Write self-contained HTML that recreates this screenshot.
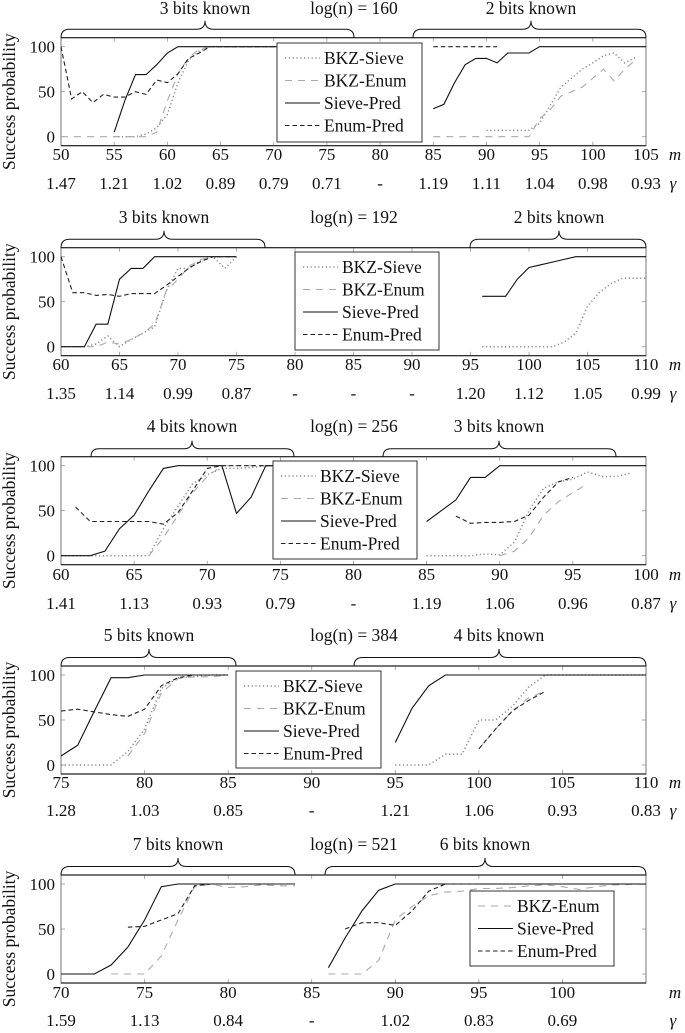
<!DOCTYPE html>
<html><head><meta charset="utf-8"><style>
body{margin:0;background:#fff;font-family:"Liberation Serif",serif;}
svg{display:block;}
</style></head><body>
<svg id="chart" width="685" height="1033" viewBox="0 0 685 1033" xmlns="http://www.w3.org/2000/svg">
</svg>
<script>
// ---------- data ----------
// Panel 1: log(n)=160
const p1Ticks=[50,55,60,65,70,75,80,85,90,95,100,105];
const p1Gamma=["1.47","1.21","1.02","0.89","0.79","0.71","-","1.19","1.11","1.04","0.98","0.93"];
const p1BkzSieveM=[55,56,57,58,59,60,61,62,63,64,77,null,90,91,92,93,94,95,96,97,98,99,100,101,102,103,104];
const p1BkzSieveV=[0,0,0,3,10,25,60,85,95,100,100,null,7,7,7,7,7,15,35,55,65,75,82,90,93,82,88];
const p1BkzEnumM=[50,58,59,60,61,62,63,64,75,null,85,94,95,96,97,98,99,100,101,102,103,104];
const p1BkzEnumV=[0,0,5,40,70,88,97,100,100,null,0,0,20,30,45,50,55,65,75,62,75,85];
const p1SievePredM=[55,56,57,58,59,60,61,77,null,85,86,87,88,89,90,91,92,93,94,95,105];
const p1SievePredV=[5,40,69,69,80,93,100,100,null,31,36,60,80,87,87,82,93,93,93,100,100];
const p1EnumPredM=[50,51,52,53,54,55,56,57,58,59,60,61,62,63,64,77,null,85,91];
const p1EnumPredV=[100,42,50,38,47,44,44,50,47,63,60,70,87,93,100,100,null,100,100];
// Panel 2: log(n)=192
const p2Ticks=[60,65,70,75,80,85,90,95,100,105,110];
const p2Gamma=["1.35","1.14","0.99","0.87","-","-","-","1.20","1.12","1.05","0.99"];
const p2BkzSieveM=[60,61,62,63,64,65,66,67,68,69,70,71,72,73,74,75,null,96,102,103,104,105,106,107,108,110];
const p2BkzSieveV=[0,0,0,3,12,0,8,15,22,62,87,87,97,100,87,100,null,0,0,5,15,45,60,70,76,76];
const p2BkzEnumM=[60,63,64,65,66,67,68,69,70,71,72,73,75];
const p2BkzEnumV=[0,0,5,3,8,15,25,62,75,90,97,100,100];
const p2SievePredM=[60,62,63,64,65,66,67,68,75,null,96,98,99,100,101,102,103,104,110];
const p2SievePredV=[0,0,25,25,75,87,87,100,100,null,56,56,75,88,91,94,97,100,100];
const p2EnumPredM=[60,61,62,63,64,65,66,67,68,69,70,71,72,73,75];
const p2EnumPredV=[100,60,60,57,58,56,59,59,59,68,78,88,95,100,100];
// Panel 3: log(n)=256
const p3Ticks=[60,65,70,75,80,85,90,95,100];
const p3Gamma=["1.41","1.13","0.93","0.79","-","1.19","1.06","0.96","0.87"];
const p3BkzSieveM=[60,66,67,68,69,70,71,72,73,74,75,null,85,88,89,90,91,92,93,94,95,96,97,98,99];
const p3BkzSieveV=[0,0,30,55,80,90,97,97,98,100,100,null,0,0,2,1,15,50,75,82,85,93,88,88,92];
const p3BkzEnumM=[66,67,68,69,70,71,75,null,90,91,92,93,94,95,96];
const p3BkzEnumV=[0,20,45,70,88,100,100,null,0,5,20,45,60,70,80];
const p3SievePredM=[60,62,63,64,65,66,67,68,71,72,73,74,75,null,85,86,87,88,89,90,100];
const p3SievePredV=[0,0,5,30,45,72,97,100,100,47,65,100,100,null,38,50,62,87,87,100,100];
const p3EnumPredM=[61,62,66,67,68,69,70,71,75,null,87,88,89,90,91,92,93,94,95];
const p3EnumPredV=[54,38,38,35,48,72,97,100,100,null,44,36,37,37,38,45,65,82,87];
// Panel 4: log(n)=384
const p4Ticks=[75,80,85,90,95,100,105,110];
const p4Gamma=["1.28","1.03","0.85","-","1.21","1.06","0.93","0.83"];
const p4BkzSieveM=[75,78,79,80,81,82,83,84,85,null,95,97,98,99,100,101,102,103,104,110];
const p4BkzSieveV=[0,0,15,40,85,97,98,100,100,null,0,0,12,12,50,50,65,87,100,100];
const p4BkzEnumM=[79,80,81,82,83,84,85,null,100,101,102,103,104];
const p4BkzEnumV=[10,35,80,96,98,98,100,null,18,40,60,75,82];
const p4SievePredM=[75,76,77,78,79,80,85,null,95,96,97,98,110];
const p4SievePredV=[10,22,60,97,97,100,100,null,25,63,88,100,100];
const p4EnumPredM=[75,76,77,78,79,80,81,82,83,85,null,100,101,102,103,104];
const p4EnumPredV=[60,62,59,56,54,62,88,97,100,100,null,18,40,60,72,82];
// Panel 5: log(n)=521
const p5Ticks=[70,75,80,85,90,95,100];
const p5Gamma=["1.59","1.13","0.84","-","1.02","0.83","0.69"];
const p5BkzEnumM=[73,75,76,77,78,79,80,81,82,83,84,null,86,88,89,90,91,92,93,94,95,96,97,98,99,100,101,102,103,105];
const p5BkzEnumV=[0,0,20,60,97,100,96,97,99,98,98,null,0,0,15,60,75,87,91,92,95,95,96,98,99,97,94,97,99,100];
const p5SievePredM=[70,72,73,74,75,76,77,84,null,86,87,88,89,90,105];
const p5SievePredV=[0,0,10,30,60,97,100,100,null,7,40,70,93,100,100];
const p5EnumPredM=[74,75,76,77,78,79,84,null,87,88,89,90,91,92,93,95];
const p5EnumPredV=[52,53,60,67,98,100,100,null,50,57,57,54,70,92,100,100];

// ---------- layout ----------
const NS="http://www.w3.org/2000/svg";
const svg=document.getElementById('chart');
const XL=61,XR=646;
const STY={
 "BKZ-Sieve":{stroke:"#8a8a8a",dash:"1.2 2.6",w:1.5},
 "BKZ-Enum":{stroke:"#aaaaaa",dash:"7 6",w:1.1},
 "Sieve-Pred":{stroke:"#111",dash:"",w:1.1},
 "Enum-Pred":{stroke:"#222",dash:"4.5 3",w:1.1}
};
function mk(tag,attrs,parent){const e=document.createElementNS(NS,tag);for(const k in attrs)e.setAttribute(k,attrs[k]);(parent||svg).appendChild(e);return e;}
function txt(x,y,s,anchor,size,parent,italic){const t=mk('text',{x:x,y:y,'text-anchor':anchor||'middle','font-size':size||17,fill:'#111','font-family':'Liberation Serif'},parent);if(italic)t.setAttribute('font-style','italic');t.textContent=s;return t;}
function brace(g,x1,x2,xp,yb,h){
 const r=h/2;
 const d=`M${x1},${yb} Q${x1},${yb-r} ${x1+r},${yb-r} L${xp-r},${yb-r} Q${xp},${yb-r} ${xp},${yb-h} Q${xp},${yb-r} ${xp+r},${yb-r} L${x2-r},${yb-r} Q${x2},${yb-r} ${x2},${yb}`;
 return mk('path',{d:d,fill:'none',stroke:'#111','stroke-width':1},g);
}
const panels=[
 {id:1,title:"log(n) = 160",y100:46.7,y0:136.7,xmin:50,xmax:105,ticks:p1Ticks,gamma:p1Gamma,lab:160,gam:189,hdr:14,
  series:[["BKZ-Sieve",p1BkzSieveM,p1BkzSieveV],["BKZ-Enum",p1BkzEnumM,p1BkzEnumV],["Sieve-Pred",p1SievePredM,p1SievePredV],["Enum-Pred",p1EnumPredM,p1EnumPredV]],
  legend:[277,43,145,99],braces:[[61,354,205,"3 bits known"],[413,646,531,"2 bits known"]],bh:17},
 {id:2,title:"log(n) = 192",y100:256.7,y0:346.7,xmin:60,xmax:110,ticks:p2Ticks,gamma:p2Gamma,lab:370,gam:399,hdr:223,
  series:[["BKZ-Sieve",p2BkzSieveM,p2BkzSieveV],["BKZ-Enum",p2BkzEnumM,p2BkzEnumV],["Sieve-Pred",p2SievePredM,p2SievePredV],["Enum-Pred",p2EnumPredM,p2EnumPredV]],
  legend:[295,252,144,98],braces:[[61,265,164,"3 bits known"],[470,646,559,"2 bits known"]],bh:17},
 {id:3,title:"log(n) = 256",y100:465.7,y0:555.7,xmin:60,xmax:100,ticks:p3Ticks,gamma:p3Gamma,lab:580,gam:609,hdr:432,
  series:[["BKZ-Sieve",p3BkzSieveM,p3BkzSieveV],["BKZ-Enum",p3BkzEnumM,p3BkzEnumV],["Sieve-Pred",p3SievePredM,p3SievePredV],["Enum-Pred",p3EnumPredM,p3EnumPredV]],
  legend:[273,461,144,98],braces:[[91,294,192,"4 bits known"],[383,616,499,"3 bits known"]],bh:16},
 {id:4,title:"log(n) = 384",y100:675,y0:765,xmin:75,xmax:110,ticks:p4Ticks,gamma:p4Gamma,lab:788,gam:816,hdr:641,
  series:[["BKZ-Sieve",p4BkzSieveM,p4BkzSieveV],["BKZ-Enum",p4BkzEnumM,p4BkzEnumV],["Sieve-Pred",p4SievePredM,p4SievePredV],["Enum-Pred",p4EnumPredM,p4EnumPredV]],
  legend:[236,671,145,97],braces:[[61,236,149,"5 bits known"],[354,646,499,"4 bits known"]],bh:17},
 {id:5,title:"log(n) = 521",y100:884,y0:974,xmin:70,xmax:105,ticks:p5Ticks,gamma:p5Gamma,lab:998,gam:1026,hdr:850,
  series:[["BKZ-Enum",p5BkzEnumM,p5BkzEnumV],["Sieve-Pred",p5SievePredM,p5SievePredV],["Enum-Pred",p5EnumPredM,p5EnumPredV]],
  legend:[470,891,144,75],braces:[[61,295,178,"7 bits known"],[325,646,485,"6 bits known"]],bh:17}
];
panels.forEach(p=>{
 const g=mk('g',{});
 
 
 const xs=m=>XL+(m-p.xmin)/(p.xmax-p.xmin)*(XR-XL);
 const ys=v=>p.y0-(p.y0-p.y100)*v/100;
 const yBot=ys(-10),yT=ys(110);
 p.ticks.forEach((t,i)=>{
  const x=xs(t);
  mk('line',{x1:x,y1:yBot,x2:x,y2:yBot-4,stroke:'#999','stroke-width':0.8},g);
  mk('line',{x1:x,y1:yT,x2:x,y2:yT+4,stroke:'#999','stroke-width':0.8},g);
  const tl=txt(x,p.lab,String(t),'middle',17,g);
  
  
  const gl=txt(x,p.gam,p.gamma[i],'middle',17,g);
  
  
 });
 [0,50,100].forEach(v=>{
  const y=ys(v);
  mk('line',{x1:XL,y1:y,x2:XL+4,y2:y,stroke:'#999','stroke-width':0.8},g);
  mk('line',{x1:XR,y1:y,x2:XR-4,y2:y,stroke:'#999','stroke-width':0.8},g);
  const yl=txt(XL-6,y+6,String(v),'end',17,g);
  
  
 });
 mk('rect',{x:XL,y:yT,width:XR-XL,height:yBot-yT,fill:'none',stroke:'#777','stroke-width':1},g);
 mk('line',{x1:XL,y1:yT,x2:XR,y2:yT,stroke:'#222','stroke-width':1.2},g);
 mk('line',{x1:XL,y1:yBot,x2:XR,y2:yBot,stroke:'#222','stroke-width':1.2},g);
 const ml=txt(675,p.lab,'m','middle',17,g,true);
 
 
 const gm=txt(673,p.gam,'γ','middle',17,g,true);
 
 
 const yt=txt(0,0,'Success probability','middle',17.5,g);
 yt.setAttribute('transform',`translate(15,${(yT+yBot)/2+10}) rotate(-90)`);
 
 
 p.series.forEach(([name,M,V])=>{
  const s=STY[name];let d='',pen=false;
  for(let i=0;i<M.length;i++){
   if(M[i]===null||V[i]===null){pen=false;continue;}
   d+=(pen?'L':'M')+xs(M[i]).toFixed(1)+','+ys(V[i]).toFixed(1)+' ';pen=true;
  }
  const pa=mk('path',{d:d,fill:'none',stroke:s.stroke,'stroke-width':s.w,'stroke-dasharray':s.dash},g);
  
  
 });
 const [lx,ly,lw,lh]=p.legend;
 const lg=mk('g',{},g);
 
 
 mk('rect',{x:lx,y:ly,width:lw,height:lh,fill:'#fff',stroke:'#333','stroke-width':1},lg);
 p.series.forEach(([name],i)=>{
  const s=STY[name];const yy=ly+15+i*22.5;
  const en=mk('g',{},lg);
  
  
  mk('line',{x1:lx+8,y1:yy,x2:lx+43,y2:yy,stroke:s.stroke,'stroke-width':s.w,'stroke-dasharray':s.dash},en);
  txt(lx+47,yy+6,name,'start',17.5,en);
 });
 const ht=txt(354,p.hdr,p.title,'middle',17.5,g);
 
 
 p.braces.forEach(([a,b,c,label])=>{
  const br=brace(g,a,b,c,yT,p.bh);
  
  
  const bl=txt(c,p.hdr,label,'middle',17.5,g);
  
  
 });
});
</script>
</body></html>
